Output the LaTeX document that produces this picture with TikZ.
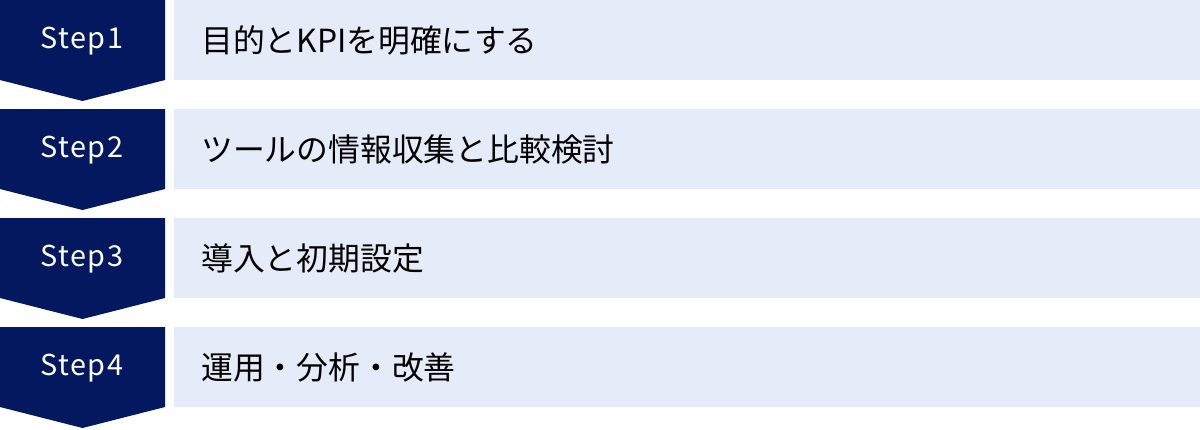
\documentclass[tikz,border=0pt]{standalone}
\usepackage{fontspec}
\setmainfont{Noto Sans CJK JP}
\newfontfamily\stepfont{Noto Sans CJK JP}[LetterSpace=5]
\newfontfamily\jpfont{Noto Sans CJK JP}
\definecolor{navy}{HTML}{03185F}
\definecolor{lightbg}{HTML}{E5EBF9}
\tikzset{
  stepshape/.style={fill=navy},
  barshape/.style={fill=lightbg},
  steptext/.style={text=white, inner sep=0pt, font=\stepfont\fontsize{28.8}{32}\selectfont},
  bodytext/.style={text=black, inner sep=0pt, anchor=west, font=\jpfont\fontsize{31.8}{36}\selectfont},
}
\begin{document}
\begin{tikzpicture}[x=1pt,y=-1pt]
\useasboundingbox (0,0) rectangle (1200,429);
\foreach \i/\n/\t in {0/1/目的とKPIを明確にする,1/2/ツールの情報収集と比較検討,2/3/導入と初期設定,3/4/運用・分析・改善}{
  \pgfmathsetmacro\y{109*\i}
  \fill[stepshape] (0,\y) -- (165,\y) -- (165,\y+80) -- (82.5,\y+101) -- (0,\y+80) -- cycle;
  \fill[barshape] (174,\y) rectangle (1200,\y+80);
  \node[steptext] (s\n) at (82,\y+41.5) {Step\n};
  \node[bodytext] (t\n) at (201,\y+40) {\t};
}
\end{tikzpicture}
\end{document}
